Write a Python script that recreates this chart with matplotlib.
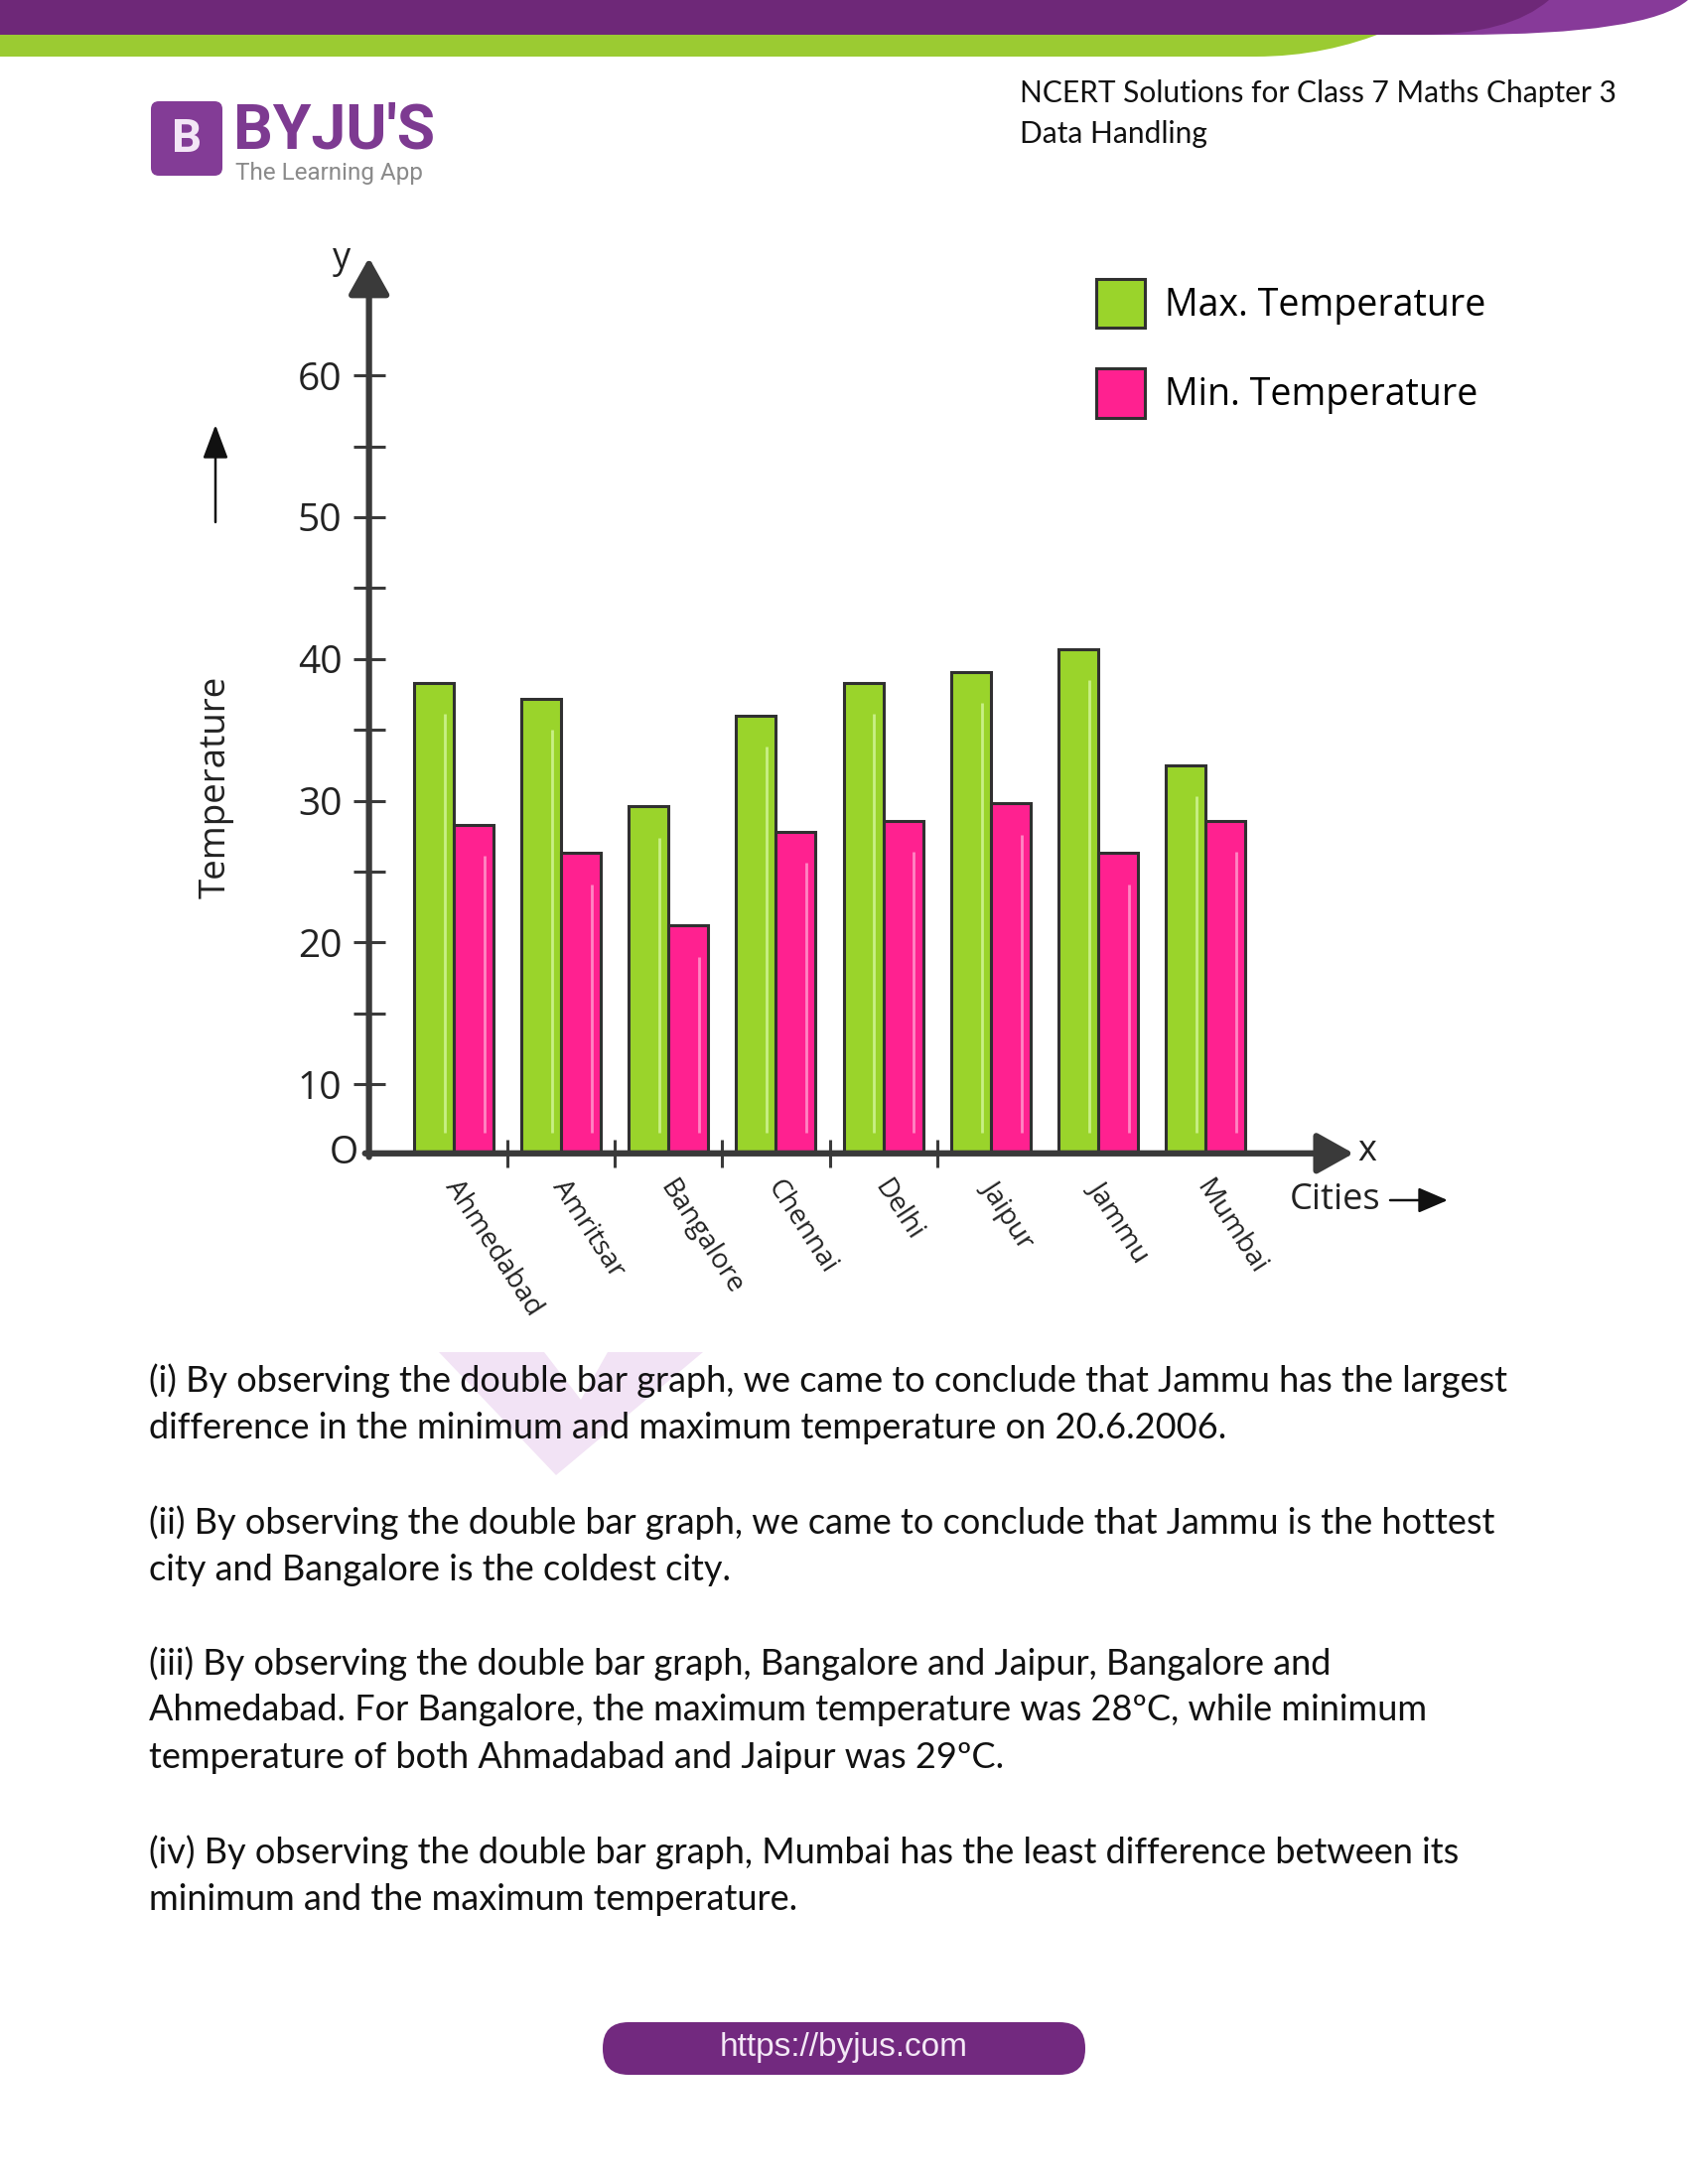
import numpy as np
import matplotlib.pyplot as plt
from matplotlib.patches import FancyBboxPatch, Polygon, PathPatch
from matplotlib.path import Path
from matplotlib.transforms import ScaledTranslation

cities = ['Ahmedabad', 'Amritsar', 'Bangalore', 'Chennai', 'Delhi', 'Jaipur', 'Jammu', 'Mumbai']
max_temp = [38.3, 37.2, 29.6, 36.0, 38.3, 39.1, 40.7, 32.5]
min_temp = [28.3, 26.3, 21.2, 27.8, 28.6, 29.8, 26.3, 28.6]
series_labels = ['Max. Temperature', 'Min. Temperature']
y_major = [10, 20, 30, 40, 50, 60]
y_minor = [15, 25, 35, 45, 55]

body_lines = [
    ['(i) By observing the double bar graph, we came to conclude that Jammu has the largest',
     'difference in the minimum and maximum temperature on 20.6.2006.'],
    ['(ii) By observing the double bar graph, we came to conclude that Jammu is the hottest',
     'city and Bangalore is the coldest city.'],
    ['(iii) By observing the double bar graph, Bangalore and Jaipur, Bangalore and',
     'Ahmedabad. For Bangalore, the maximum temperature was 28\u00baC, while minimum',
     'temperature of both Ahmadabad and Jaipur was 29\u00baC.'],
    ['(iv) By observing the double bar graph, Mumbai has the least difference between its',
     'minimum and the maximum temperature.'],
]

GREEN = '#9AD42B'
PINK = '#FF2190'
EDGE = '#303030'
AXIS = '#3a3a3a'
PURPLE = '#6E2878'
CHART_FONT = ['Open Sans', 'DejaVu Sans']
BODY_FONT = ['Lato', 'DejaVu Sans']

fig = plt.figure(figsize=(17, 22), dpi=100, facecolor='white')

# page decoration in pixel coordinates
bg = fig.add_axes([0, 0, 1, 1], zorder=-1)
bg.set_xlim(0, 1700)
bg.set_ylim(2200, 0)
bg.axis('off')

green_band = Path([(0, 30), (1400, 30), (1335, 57), (1265, 57), (0, 57), (0, 30)],
                  [Path.MOVETO, Path.LINETO, Path.CURVE3, Path.CURVE3, Path.LINETO, Path.CLOSEPOLY])
bg.add_patch(PathPatch(green_band, facecolor='#9BCB32', edgecolor='none'))
light_band = Path([(0, 0), (1700, 0), (1660, 35), (1470, 35), (0, 35), (0, 0)],
                  [Path.MOVETO, Path.LINETO, Path.CURVE3, Path.CURVE3, Path.LINETO, Path.CLOSEPOLY])
bg.add_patch(PathPatch(light_band, facecolor='#873A99', edgecolor='none'))
dark_band = Path([(0, 0), (1560, 0), (1520, 35), (1430, 35), (0, 35), (0, 0)],
                 [Path.MOVETO, Path.LINETO, Path.CURVE3, Path.CURVE3, Path.LINETO, Path.CLOSEPOLY])
bg.add_patch(PathPatch(dark_band, facecolor=PURPLE, edgecolor='none'))

# logo
bg.add_patch(FancyBboxPatch((152, 102), 72, 75, boxstyle='round,pad=0,rounding_size=8',
                            facecolor='#833C96', edgecolor='none'))
bg.text(188, 140, 'B', color='#f3e6f6', fontsize=34, fontweight='bold', ha='center', va='center',
        family=['Roboto', 'DejaVu Sans'])
bg.text(235, 149, "BYJU'S", color='#7D3A91', fontsize=45, fontweight='bold',
        family=['Roboto', 'DejaVu Sans'], ha='left', va='baseline')
bg.text(237, 174, 'The Learning App', color='#8a8a8a', fontsize=17.5,
        family=['Roboto', 'DejaVu Sans'], ha='left', va='center')

# watermark behind the first paragraph
bg.add_patch(Polygon([(442, 1362), (548, 1362), (585, 1410), (612, 1362), (708, 1362), (560, 1486)],
                     closed=True, facecolor='#F2E3F5', edgecolor='none'))

# footer
bg.add_patch(FancyBboxPatch((607, 2037), 486, 53, boxstyle='round,pad=0,rounding_size=26',
                            facecolor='#72297F', edgecolor='none'))
bg.text(850, 2063, 'https://byjus.com', color='#f4e8f6', fontsize=24,
        family=['Liberation Sans', 'DejaVu Sans'], ha='center', va='center')

# header text
fig.text(0.604, 0.9573, 'NCERT Solutions for Class 7 Maths Chapter 3', fontsize=21.5,
         family=BODY_FONT, va='center', ha='left', color='#111111')
fig.text(0.604, 0.9388, 'Data Handling', fontsize=21.5, family=BODY_FONT, va='center', ha='left',
         color='#111111')


# y axis: the first 10 units are drawn at about half scale, as in the original
def fwd(v):
    v = np.asarray(v, dtype=float)
    return np.where(v < 10, v * 0.487, v - 5.13)


def inv(v):
    v = np.asarray(v, dtype=float)
    return np.where(v < 4.87, v / 0.487, v + 5.13)


ax = fig.add_axes([0.2186, 0.4719, 0.5833, 0.4101])
ax.set_yscale('function', functions=(fwd, inv))
ax.set_xlim(-0.79, 8.38)
ax.set_ylim(0, 68.3)
for s in ax.spines.values():
    s.set_visible(False)

x = np.arange(len(cities))
w = 0.37
b1 = ax.bar(x - w / 2, max_temp, w, color=GREEN, edgecolor=EDGE, linewidth=2.2, label=series_labels[0])
b2 = ax.bar(x + w / 2, min_temp, w, color=PINK, edgecolor=EDGE, linewidth=2.2, label=series_labels[1])
# thin shine line inside each bar
ax.vlines(x - w / 2 + w * 0.27, 3, np.array(max_temp) - 2.2, color='#c9ef86', lw=2)
ax.vlines(x + w / 2 + w * 0.27, 3, np.array(min_temp) - 2.2, color='#ff86c3', lw=2)

# axes with arrow heads
arrow = dict(arrowstyle='-|>,head_length=0.75,head_width=0.42', lw=4.5, color=AXIS,
             mutation_scale=30, shrinkA=0, shrinkB=0)
ax.annotate('', xy=(0, 1), xytext=(0, -0.004), xycoords='axes fraction', arrowprops=arrow,
            annotation_clip=False, zorder=5)
ax.annotate('', xy=(1, 0), xytext=(-0.004, 0), xycoords='axes fraction', arrowprops=arrow,
            annotation_clip=False, zorder=5)

ax.set_yticks(y_major)
ax.set_yticklabels([str(v) for v in y_major], family=CHART_FONT, fontsize=28, color='#222222')
ax.set_yticks(y_minor, minor=True)
ax.tick_params(axis='y', which='both', direction='inout', length=23, width=2.2, color=AXIS, pad=8)

ax.set_xticks(np.arange(5) + 0.5)
ax.set_xticklabels([])
ax.set_xticks(x, minor=True)
ax.set_xticklabels(cities, minor=True, rotation=-57, ha='left', va='top', rotation_mode='anchor',
                   family=CHART_FONT, fontsize=20, color='#222222')
ax.tick_params(axis='x', which='major', direction='inout', length=20, width=2.2, color=AXIS)
ax.tick_params(axis='x', which='minor', length=0, pad=16)
shift = ScaledTranslation(6 / 72, 0, fig.dpi_scale_trans)
for lbl in ax.get_xticklabels(minor=True):
    lbl.set_transform(lbl.get_transform() + shift)

ax.annotate('O', xy=(0, 0), xycoords='axes fraction', xytext=(-18, 0), textcoords='offset points',
            ha='center', va='center', fontsize=27, family=CHART_FONT, color='#222222')
ax.annotate('y', xy=(0, 1), xycoords='axes fraction', xytext=(-20, -1), textcoords='offset points',
            ha='center', va='center', fontsize=26, family=CHART_FONT, color='#222222')
ax.annotate('x', xy=(1, 0), xycoords='axes fraction', xytext=(10, 1), textcoords='offset points',
            ha='center', va='center', fontsize=26, family=CHART_FONT, color='#222222')

# axis titles with arrows
fig.text(926 / 1212, 1 - 862 / 1568, 'Cities', fontsize=26, family=CHART_FONT, ha='left',
         va='center', color='#222222')
bg.annotate('', xy=(1458, 1209), xytext=(1400, 1209),
            arrowprops=dict(arrowstyle='-|>,head_length=0.7,head_width=0.3', lw=1.8,
                            color='#111111', mutation_scale=26, shrinkA=0, shrinkB=0))
fig.text(155 / 1212, 1 - 565 / 1568, 'Temperature', rotation=90, fontsize=26.5, family=CHART_FONT,
         ha='center', va='center', color='#222222')
bg.annotate('', xy=(217, 428), xytext=(217, 526),
            arrowprops=dict(arrowstyle='-|>,head_length=0.8,head_width=0.3', lw=1.8,
                            color='#111111', mutation_scale=26, shrinkA=0, shrinkB=0))

ax.legend(handles=[b1, b2], labels=series_labels, loc='upper left',
          bbox_to_anchor=(787 / 1212, 1 - 200 / 1568), bbox_transform=fig.transFigure,
          frameon=False, prop={'family': CHART_FONT, 'size': 27}, handlelength=1.3,
          handleheight=1.65, handletextpad=0.55, labelspacing=1.1, borderpad=0, borderaxespad=0)

# answer text
para_y = [[991, 1025], [1093, 1127], [1194, 1228, 1262], [1330, 1364]]
for lines, ys in zip(body_lines, para_y):
    for line, yy in zip(lines, ys):
        fig.text(107 / 1212, 1 - yy / 1568, line, fontsize=26, family=BODY_FONT, ha='left',
                 va='center', color='#111111')

fig.savefig('out.png', dpi=100, facecolor='white')
